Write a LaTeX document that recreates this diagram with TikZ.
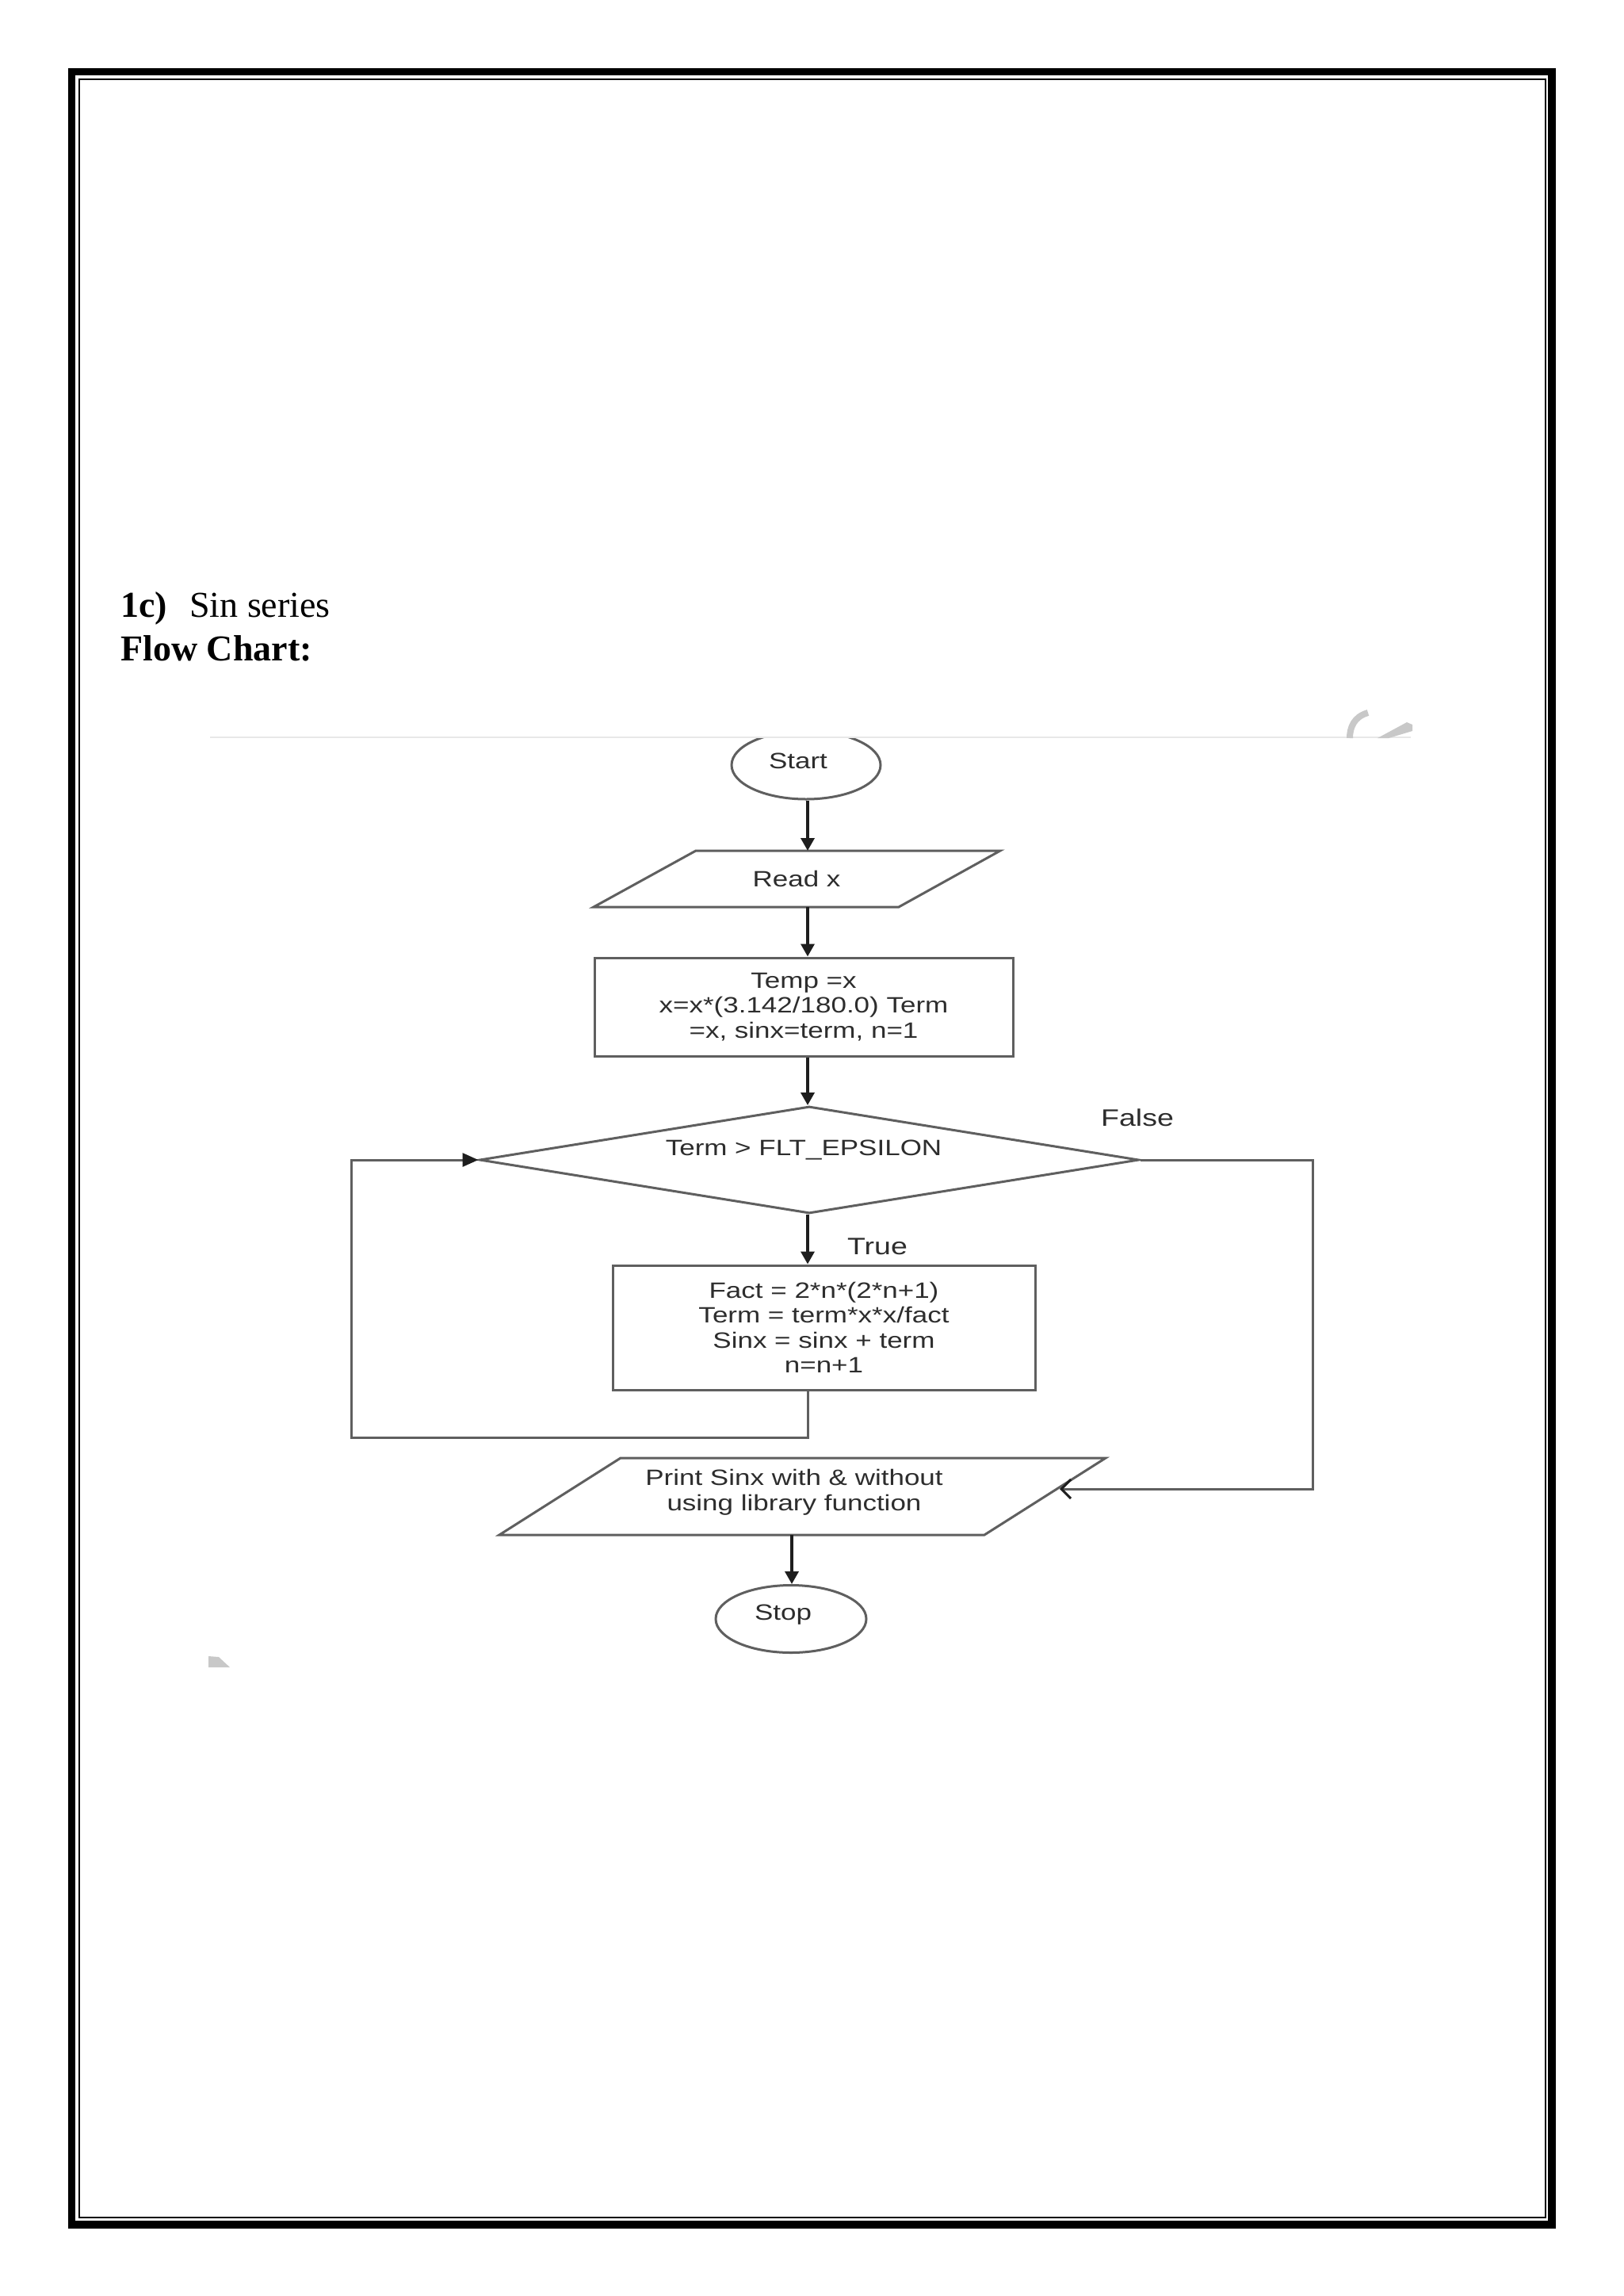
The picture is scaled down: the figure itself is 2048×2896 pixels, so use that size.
\documentclass[tikz,border=0pt]{standalone}
\usepackage{fontspec}
\setmainfont{Liberation Serif}
\newfontfamily\fcfont[FakeStretch=1.25]{Liberation Sans}
\usetikzlibrary{shapes.geometric,arrows.meta}
\definecolor{fcline}{RGB}{95,95,95}
\definecolor{fcarrow}{RGB}{30,30,30}
\definecolor{fctext}{RGB}{45,45,45}
\definecolor{faintline}{RGB}{232,232,232}
\definecolor{smudge}{RGB}{200,200,200}
\begin{document}
\begin{tikzpicture}[x=1pt,y=-1pt,
  fc/.style={font=\fcfont\fontsize{28}{31.5}\selectfont, text=fctext, align=center, inner sep=0pt},
  fclab/.style={font=\fcfont\fontsize{30}{33}\selectfont, text=fctext, inner sep=0pt},
  proc/.style={fc, rectangle, draw=fcline, line width=3pt},
  term/.style={fc, ellipse, draw=fcline, line width=3pt},
  decision/.style={fc, diamond, draw=fcline, line width=3pt, shape aspect=6.2},
  fcshape/.style={draw=fcline, line width=3pt, line join=miter},
  arr/.style={draw=fcarrow, line width=3.5pt, -{Triangle[length=16pt,width=17pt]}},
  flowline/.style={draw=fcline, line width=3pt},
  head/.style={anchor=base west, inner sep=0pt, font=\fontsize{46}{55}\selectfont}
]
\useasboundingbox (0,0) rectangle (2048,2896);
\fill[white] (0,0) rectangle (2048,2896);

% page border
\draw[line width=9.5pt] (90.5,90.5) rectangle (1958,2806);
\draw[line width=2pt] (100,100) rectangle (1949.5,2796.5);

% heading
\node[head, font=\fontsize{46}{55}\selectfont\bfseries] (h1) at (152,778) {1c)};
\node[head] (h2) at (239,778) {Sin series};
\node[head, font=\fontsize{46}{55}\selectfont\bfseries] (h3) at (152,833) {Flow Chart:};

% screenshot edge and smudges
\draw[faintline, line width=1.5pt] (265,930) -- (1780,930);
\draw[smudge, line width=8pt] (1726,899) .. controls (1708,904) and (1703,918) .. (1703,931);
\fill[smudge] (1738,931) -- (1775,911) -- (1782,914) -- (1782,922) -- (1752,931) -- cycle;
\fill[smudge] (263,2089) -- (276,2090) -- (290,2103) -- (263,2103) -- cycle;

% Start (clipped by the screenshot top edge)
\begin{scope}
  \clip (0,931) rectangle (2048,2896);
  \node[term, minimum width=188pt, minimum height=86pt,
    label={[fc, xshift=-10pt, yshift=5pt]center:Start}] (start) at (1017,965) {};
\end{scope}

% Read x
\draw[fcshape] (878,1073) -- (1262,1073) -- (1134,1144) -- (749,1144) -- cycle;
\node[fc] (read) at (1005,1108) {Read x};
\coordinate (readT) at (1019,1073);
\coordinate (readB) at (1019,1144);

% Temp box
\node[proc, minimum width=528pt, minimum height=124pt] (temp) at (1014,1270)
  {Temp =x\\x=x*(3.142/180.0) Term\\=x, sinx=term, n=1};

% decision
\node[decision, minimum width=832pt, minimum height=135pt,
  label={[fc, xshift=-7pt, yshift=13pt]center:Term > FLT\_EPSILON}] (dia) at (1021,1463) {};

% loop body
\node[proc, minimum width=533pt, minimum height=157pt] (tbox) at (1039.5,1674.5)
  {Fact = 2*n*(2*n+1)\\Term = term*x*x/fact\\Sinx = sinx + term\\n=n+1};

% print
\draw[fcshape] (783,1839) -- (1395,1839) -- (1242,1936) -- (630,1936) -- cycle;
\node[fc] (print) at (1002,1882) {Print Sinx with \& without\\using library function};
\coordinate (printB) at (999,1936);
\coordinate (printR) at (1337,1878);

% stop
\node[term, minimum width=190pt, minimum height=85pt,
  label={[fc, xshift=-10pt, yshift=5pt]center:Stop}] (stop) at (998,2042) {};

% labels
\node[fclab] (falselab) at (1435,1410) {False};
\node[fclab] (truelab) at (1107,1572) {True};

% connectors
\draw[arr] (start.south -| readT) -- (readT);
\draw[arr] (readB) -- (temp.north -| readB);
\draw[arr] (temp.south -| readB) -- (dia.north -| readB);
\draw[arr] (dia.south -| readB) -- (tbox.north -| readB);
\draw[arr] (printB) -- (stop.north -| printB);

\coordinate (loopB) at (1019,1813);
\coordinate (loopL) at (443,1813);
\draw[flowline, -{Triangle[length=20pt,width=17pt,color=fcarrow,fill=fcarrow]}]
  (tbox.south -| loopB) -- (loopB) -- (loopL) |- (dia.west);

\coordinate (fR) at (1656,1462);
\draw[flowline, -{Straight Barb[length=12pt,width=24pt,color=fcarrow]}]
  (dia.east) -- (dia.east -| fR) |- (printR);
\end{tikzpicture}
\end{document}
